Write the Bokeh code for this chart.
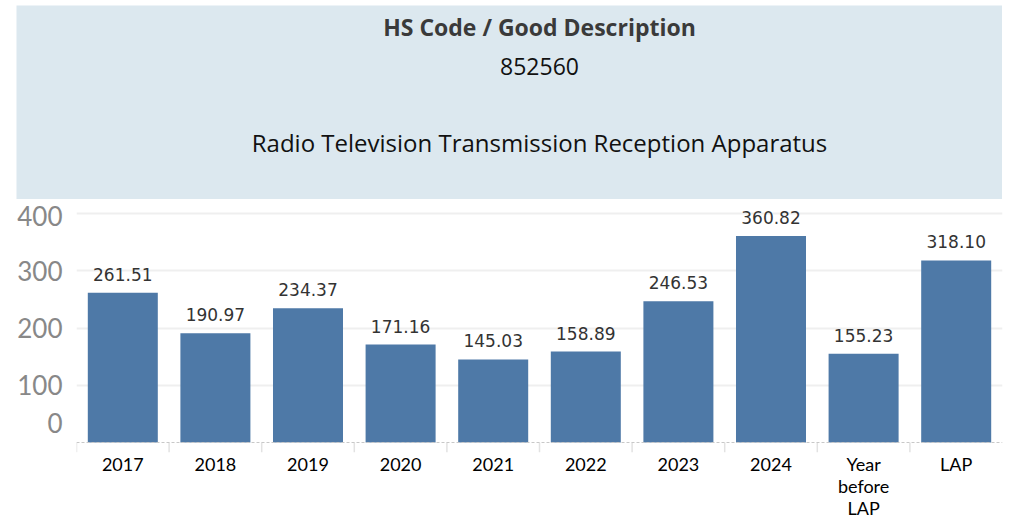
from bokeh.plotting import figure
from bokeh.models import ColumnDataSource, FactorRange, Range1d, FixedTicker, Span, Label
from bokeh.transform import dodge
from bokeh.layouts import column, row
from bokeh.embed import file_html
from bokeh.resources import INLINE
from bokeh.core.properties import value

# ---- data ----
categories = ["2017", "2018", "2019", "2020", "2021", "2022", "2023", "2024",
              "Year before LAP", "LAP"]
values = [261.51, 190.97, 234.37, 171.16, 145.03, 158.89, 246.53, 360.82, 155.23, 318.10]
y_ticks = [0, 100, 200, 300, 400]
header_title = "HS Code / Good Description"
hs_code = "852560"
good_description = "Radio Television Transmission Reception Apparatus"

# ---- styles ----
BAND = "#dce8ef"
BAR = "#4e79a7"

factors = [c.replace(" ", "\n") for c in categories]
labels = [f"{v:.2f}" for v in values]
src = ColumnDataSource(dict(cat=factors, val=values, label=labels))

# ---- header (page-pixel coordinates inside the band) ----
header = figure(width=1002, height=199, x_range=Range1d(16, 1002), y_range=Range1d(199, 5),
                output_backend="svg", toolbar_location=None,
                x_axis_type=None, y_axis_type=None,
                min_border_left=16, min_border_right=0, min_border_top=5, min_border_bottom=0,
                background_fill_color=BAND, border_fill_color="white", outline_line_color=None)
header.add_layout(Label(x=539, y=26, text=header_title, text_font="Open Sans",
                        text_font_size="23px", text_font_style="bold", text_color="#3a3a3a",
                        text_align="center", text_baseline="middle"))
header.add_layout(Label(x=539, y=66, text=hs_code, text_font="Open Sans",
                        text_font_size="23px", text_color="#111111",
                        text_align="center", text_baseline="middle"))
header.add_layout(Label(x=539, y=142, text=good_description, text_font="Open Sans",
                        text_font_size="24px", text_color="#111111",
                        text_align="center", text_baseline="middle"))

# ---- chart ----
px_per_unit = 229 / 400
p = figure(width=1012, height=323, x_range=FactorRange(factors=factors, range_padding=0),
           y_range=Range1d(-10 / px_per_unit, 400 + 14 / px_per_unit),
           output_backend="svg", toolbar_location=None,
           min_border_left=76, min_border_right=10, min_border_top=0, min_border_bottom=70,
           outline_line_color=None, background_fill_color="white", border_fill_color="white")

p.vbar(x="cat", top="val", width=0.756, source=src, fill_color=BAR, line_color=None)

p.text(x="cat", y="val", text="label", source=src, text_align="center",
       text_baseline="bottom", y_offset=-12, text_font=value("DejaVu Sans"),
       text_font_size="17px", text_color="#333333")

# separators between categories below baseline
sep = ColumnDataSource(dict(cat=factors, y0=[0] * len(factors),
                            y1=[p.y_range.start] * len(factors)))
p.segment(x0=dodge("cat", -0.5, range=p.x_range), y0="y0",
          x1=dodge("cat", -0.5, range=p.x_range), y1="y1",
          source=sep, line_color="#e2e2e2", line_width=1.5)

p.add_layout(Span(location=0, dimension="width", line_color="#c8c8c8",
                  line_dash="3 2", line_width=1))

# axes
p.xgrid.visible = False
p.ygrid.ticker = FixedTicker(ticks=y_ticks[1:])
p.ygrid.grid_line_color = "#efefef"
p.ygrid.grid_line_width = 2

p.yaxis.ticker = FixedTicker(ticks=y_ticks)
p.yaxis.major_label_overrides = {0: "0\n "}
p.yaxis.axis_line_color = None
p.yaxis.major_tick_line_color = None
p.yaxis.minor_tick_line_color = None
p.yaxis.major_tick_out = 0
p.yaxis.axis_label_standoff = 0
p.yaxis.major_label_standoff = 14
p.yaxis.major_label_text_font = "Lato"
p.yaxis.major_label_text_font_size = "26px"
p.yaxis.major_label_text_color = "#888888"

p.xaxis.axis_line_color = None
p.xaxis.major_tick_line_color = None
p.xaxis.minor_tick_line_color = None
p.xaxis.major_tick_out = 0
p.xaxis.major_tick_in = 0
p.xaxis.axis_label_standoff = 0
p.xaxis.major_label_standoff = 0
p.xaxis.major_label_text_font = "Lato"
p.xaxis.major_label_text_font_size = "18px"
p.xaxis.major_label_text_line_height = 1.0
p.xaxis.major_label_text_color = "#000000"

layout = column(row(header), p, spacing=0)
open("out.html", "w").write(file_html(layout, INLINE))
